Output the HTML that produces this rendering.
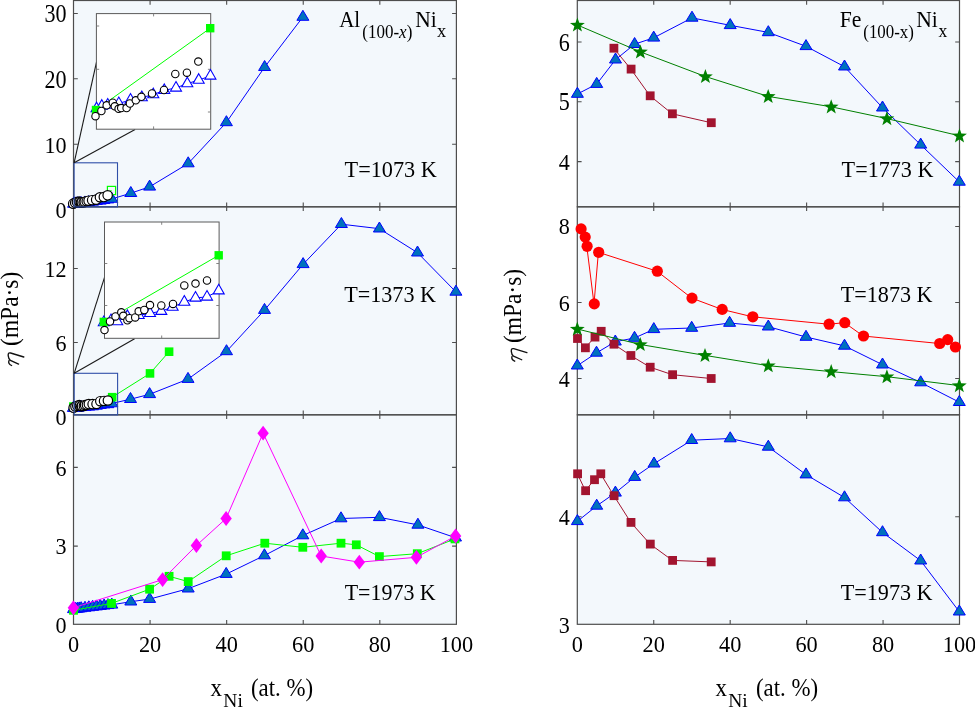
<!DOCTYPE html>
<html><head><meta charset="utf-8"><title>viscosity</title>
<style>html,body{margin:0;padding:0;background:#fff;width:975px;height:708px;overflow:hidden}svg{display:block;will-change:transform}</style>
</head><body>
<svg width="975" height="708" viewBox="0 0 975 708">
<rect x="0" y="0" width="975" height="708" fill="#ffffff"/>
<rect x="73.5" y="0.5" width="382.9" height="623.8" fill="#f3f8fc"/>
<rect x="577.3" y="0.5" width="382.2" height="623.8" fill="#f3f8fc"/>
<rect x="73.5" y="0.5" width="382.9" height="206.3" fill="none" stroke="#4d4d4d" stroke-width="1.2"/>
<path d="M150.08 0.5v4.3 M150.08 206.8v-4.3 M226.66 0.5v4.3 M226.66 206.8v-4.3 M303.24 0.5v4.3 M303.24 206.8v-4.3 M379.82 0.5v4.3 M379.82 206.8v-4.3 M73.5 13.5h4.3 M456.4 13.5h-4.3 M73.5 78.8h4.3 M456.4 78.8h-4.3 M73.5 144.2h4.3 M456.4 144.2h-4.3" stroke="#4d4d4d" stroke-width="1.1" fill="none"/>
<rect x="73.5" y="206.8" width="382.9" height="208" fill="none" stroke="#4d4d4d" stroke-width="1.2"/>
<path d="M150.08 206.8v4.3 M150.08 414.8v-4.3 M226.66 206.8v4.3 M226.66 414.8v-4.3 M303.24 206.8v4.3 M303.24 414.8v-4.3 M379.82 206.8v4.3 M379.82 414.8v-4.3 M73.5 268.5h4.3 M456.4 268.5h-4.3 M73.5 342.5h4.3 M456.4 342.5h-4.3" stroke="#4d4d4d" stroke-width="1.1" fill="none"/>
<rect x="73.5" y="414.8" width="382.9" height="209.5" fill="none" stroke="#4d4d4d" stroke-width="1.2"/>
<path d="M150.08 414.8v4.3 M150.08 624.3v-4.3 M226.66 414.8v4.3 M226.66 624.3v-4.3 M303.24 414.8v4.3 M303.24 624.3v-4.3 M379.82 414.8v4.3 M379.82 624.3v-4.3 M73.5 467.4h4.3 M456.4 467.4h-4.3 M73.5 546.1h4.3 M456.4 546.1h-4.3" stroke="#4d4d4d" stroke-width="1.1" fill="none"/>
<rect x="577.3" y="0.5" width="382.2" height="206.3" fill="none" stroke="#4d4d4d" stroke-width="1.2"/>
<path d="M653.74 0.5v4.3 M653.74 206.8v-4.3 M730.18 0.5v4.3 M730.18 206.8v-4.3 M806.62 0.5v4.3 M806.62 206.8v-4.3 M883.06 0.5v4.3 M883.06 206.8v-4.3 M577.3 42h4.3 M959.5 42h-4.3 M577.3 101.8h4.3 M959.5 101.8h-4.3 M577.3 161.6h4.3 M959.5 161.6h-4.3" stroke="#4d4d4d" stroke-width="1.1" fill="none"/>
<rect x="577.3" y="206.8" width="382.2" height="208" fill="none" stroke="#4d4d4d" stroke-width="1.2"/>
<path d="M653.74 206.8v4.3 M653.74 414.8v-4.3 M730.18 206.8v4.3 M730.18 414.8v-4.3 M806.62 206.8v4.3 M806.62 414.8v-4.3 M883.06 206.8v4.3 M883.06 414.8v-4.3 M577.3 226.5h4.3 M959.5 226.5h-4.3 M577.3 302.5h4.3 M959.5 302.5h-4.3 M577.3 378.5h4.3 M959.5 378.5h-4.3" stroke="#4d4d4d" stroke-width="1.1" fill="none"/>
<rect x="577.3" y="414.8" width="382.2" height="209.5" fill="none" stroke="#4d4d4d" stroke-width="1.2"/>
<path d="M653.74 414.8v4.3 M653.74 624.3v-4.3 M730.18 414.8v4.3 M730.18 624.3v-4.3 M806.62 414.8v4.3 M806.62 624.3v-4.3 M883.06 414.8v4.3 M883.06 624.3v-4.3 M577.3 516.8h4.3 M959.5 516.8h-4.3" stroke="#4d4d4d" stroke-width="1.1" fill="none"/>
<text x="66.5" y="22.41" font-family="Liberation Serif" font-size="25.5" text-anchor="end" textLength="22.08" lengthAdjust="spacingAndGlyphs">30</text>
<text x="66.5" y="87.71" font-family="Liberation Serif" font-size="25.5" text-anchor="end" textLength="22.08" lengthAdjust="spacingAndGlyphs">20</text>
<text x="66.5" y="152.6" font-family="Liberation Serif" font-size="24" text-anchor="end" textLength="22.08" lengthAdjust="spacingAndGlyphs">10</text>
<text x="66.5" y="218.3" font-family="Liberation Serif" font-size="24" text-anchor="end" textLength="11.04" lengthAdjust="spacingAndGlyphs">0</text>
<text x="66.5" y="277.1" font-family="Liberation Serif" font-size="24" text-anchor="end" textLength="22.08" lengthAdjust="spacingAndGlyphs">12</text>
<text x="66.5" y="350.9" font-family="Liberation Serif" font-size="24" text-anchor="end" textLength="11.04" lengthAdjust="spacingAndGlyphs">6</text>
<text x="66.5" y="424.8" font-family="Liberation Serif" font-size="24" text-anchor="end" textLength="11.04" lengthAdjust="spacingAndGlyphs">0</text>
<text x="66.5" y="475.7" font-family="Liberation Serif" font-size="24" text-anchor="end" textLength="11.04" lengthAdjust="spacingAndGlyphs">6</text>
<text x="66.5" y="554.2" font-family="Liberation Serif" font-size="24" text-anchor="end" textLength="11.04" lengthAdjust="spacingAndGlyphs">3</text>
<text x="66.5" y="632.7" font-family="Liberation Serif" font-size="24" text-anchor="end" textLength="11.04" lengthAdjust="spacingAndGlyphs">0</text>
<text x="569.8" y="50.81" font-family="Liberation Serif" font-size="25.5" text-anchor="end" textLength="11.04" lengthAdjust="spacingAndGlyphs">6</text>
<text x="569.8" y="110.41" font-family="Liberation Serif" font-size="25.5" text-anchor="end" textLength="11.04" lengthAdjust="spacingAndGlyphs">5</text>
<text x="569.8" y="170.2" font-family="Liberation Serif" font-size="24" text-anchor="end" textLength="11.04" lengthAdjust="spacingAndGlyphs">4</text>
<text x="569.8" y="234.1" font-family="Liberation Serif" font-size="24" text-anchor="end" textLength="11.04" lengthAdjust="spacingAndGlyphs">8</text>
<text x="569.8" y="310.6" font-family="Liberation Serif" font-size="24" text-anchor="end" textLength="11.04" lengthAdjust="spacingAndGlyphs">6</text>
<text x="569.8" y="386.7" font-family="Liberation Serif" font-size="24" text-anchor="end" textLength="11.04" lengthAdjust="spacingAndGlyphs">4</text>
<text x="569.8" y="525.1" font-family="Liberation Serif" font-size="24" text-anchor="end" textLength="11.04" lengthAdjust="spacingAndGlyphs">4</text>
<text x="569.8" y="632.6" font-family="Liberation Serif" font-size="24" text-anchor="end" textLength="11.04" lengthAdjust="spacingAndGlyphs">3</text>
<text x="73.5" y="652" font-family="Liberation Serif" font-size="24" text-anchor="middle" textLength="11.16" lengthAdjust="spacingAndGlyphs">0</text>
<text x="577.3" y="652" font-family="Liberation Serif" font-size="24" text-anchor="middle" textLength="11.16" lengthAdjust="spacingAndGlyphs">0</text>
<text x="150.08" y="652" font-family="Liberation Serif" font-size="24" text-anchor="middle" textLength="22.32" lengthAdjust="spacingAndGlyphs">20</text>
<text x="653.74" y="652" font-family="Liberation Serif" font-size="24" text-anchor="middle" textLength="22.32" lengthAdjust="spacingAndGlyphs">20</text>
<text x="226.66" y="652" font-family="Liberation Serif" font-size="24" text-anchor="middle" textLength="22.32" lengthAdjust="spacingAndGlyphs">40</text>
<text x="730.18" y="652" font-family="Liberation Serif" font-size="24" text-anchor="middle" textLength="22.32" lengthAdjust="spacingAndGlyphs">40</text>
<text x="303.24" y="652" font-family="Liberation Serif" font-size="24" text-anchor="middle" textLength="22.32" lengthAdjust="spacingAndGlyphs">60</text>
<text x="806.62" y="652" font-family="Liberation Serif" font-size="24" text-anchor="middle" textLength="22.32" lengthAdjust="spacingAndGlyphs">60</text>
<text x="379.82" y="652" font-family="Liberation Serif" font-size="24" text-anchor="middle" textLength="22.32" lengthAdjust="spacingAndGlyphs">80</text>
<text x="883.06" y="652" font-family="Liberation Serif" font-size="24" text-anchor="middle" textLength="22.32" lengthAdjust="spacingAndGlyphs">80</text>
<text x="456.4" y="652" font-family="Liberation Serif" font-size="24" text-anchor="middle" textLength="33.48" lengthAdjust="spacingAndGlyphs">100</text>
<text x="959.5" y="652" font-family="Liberation Serif" font-size="24" text-anchor="middle" textLength="33.48" lengthAdjust="spacingAndGlyphs">100</text>
<text x="210.5" y="696.4" font-family="Liberation Serif" font-size="26" text-anchor="start" textLength="11.5" lengthAdjust="spacingAndGlyphs">x</text>
<text x="223.3" y="706.8" font-family="Liberation Serif" font-size="19" text-anchor="start" textLength="19.5" lengthAdjust="spacingAndGlyphs">Ni</text>
<text x="251" y="696.4" font-family="Liberation Serif" font-size="25" text-anchor="start" textLength="62.2" lengthAdjust="spacingAndGlyphs">(at. %)</text>
<text x="715.4" y="696.4" font-family="Liberation Serif" font-size="26" text-anchor="start" textLength="11.5" lengthAdjust="spacingAndGlyphs">x</text>
<text x="728.2" y="706.8" font-family="Liberation Serif" font-size="19" text-anchor="start" textLength="19.5" lengthAdjust="spacingAndGlyphs">Ni</text>
<text x="755.9" y="696.4" font-family="Liberation Serif" font-size="25" text-anchor="start" textLength="62.2" lengthAdjust="spacingAndGlyphs">(at. %)</text>
<g transform="translate(0,0)">
<g transform="translate(0,365.5) scale(1,1.2) translate(0,-365.5)"><path d="M23.8 358.4 L10.6 355.1 Q7.9 354.5 8.2 357.3 Q8.5 360.2 10.4 361.2 L18.6 364.3 M8.9 361.5 Q7.9 364.1 11.6 365.5" fill="none" stroke="#111" stroke-width="1.35" stroke-linecap="round" vector-effect="non-scaling-stroke"/></g>
<g transform="translate(18.3,366.6) rotate(-90)">
<text x="20.7" y="0" font-family="Liberation Serif" font-size="25.5" text-anchor="start" textLength="74.2" lengthAdjust="spacingAndGlyphs">(mPa&#183;s)</text>
</g></g>
<g transform="translate(503.1,-4.3)">
<g transform="translate(0,365.5) scale(1,1.2) translate(0,-365.5)"><path d="M23.8 358.4 L10.6 355.1 Q7.9 354.5 8.2 357.3 Q8.5 360.2 10.4 361.2 L18.6 364.3 M8.9 361.5 Q7.9 364.1 11.6 365.5" fill="none" stroke="#111" stroke-width="1.35" stroke-linecap="round" vector-effect="non-scaling-stroke"/></g>
<g transform="translate(18.3,366.6) rotate(-90)">
<text x="19.2" y="0" font-family="Liberation Serif" font-size="25.5" text-anchor="start" textLength="74.2" lengthAdjust="spacingAndGlyphs">(mPa&#183;s)</text>
</g></g>
<text x="339.2" y="27.4" font-family="Liberation Serif" font-size="23.5" text-anchor="start" textLength="21" lengthAdjust="spacingAndGlyphs">Al</text>
<text x="362.3" y="37.5" font-family="Liberation Serif" font-size="17.8" text-anchor="start" textLength="50" lengthAdjust="spacingAndGlyphs">(100-<tspan font-style="italic">x</tspan>)</text>
<text x="415.2" y="27.4" font-family="Liberation Serif" font-size="23.5" text-anchor="start" textLength="21.5" lengthAdjust="spacingAndGlyphs">Ni</text>
<text x="436.9" y="37.3" font-family="Liberation Serif" font-size="19" text-anchor="start" textLength="9.2" lengthAdjust="spacingAndGlyphs">x</text>
<text x="839.8" y="27.4" font-family="Liberation Serif" font-size="23.5" text-anchor="start" textLength="21.7" lengthAdjust="spacingAndGlyphs">Fe</text>
<text x="863.3" y="37.5" font-family="Liberation Serif" font-size="17.8" text-anchor="start" textLength="50.5" lengthAdjust="spacingAndGlyphs">(100-x)</text>
<text x="916.2" y="27.4" font-family="Liberation Serif" font-size="23.5" text-anchor="start" textLength="21.6" lengthAdjust="spacingAndGlyphs">Ni</text>
<text x="938.4" y="37.3" font-family="Liberation Serif" font-size="19" text-anchor="start" textLength="8.8" lengthAdjust="spacingAndGlyphs">x</text>
<text x="344.6" y="177.3" font-family="Liberation Serif" font-size="24" text-anchor="start" textLength="92.2" lengthAdjust="spacingAndGlyphs">T=1073 K</text>
<text x="344.2" y="301.8" font-family="Liberation Serif" font-size="24" text-anchor="start" textLength="91.8" lengthAdjust="spacingAndGlyphs">T=1373 K</text>
<text x="344.7" y="600.3" font-family="Liberation Serif" font-size="24" text-anchor="start" textLength="91" lengthAdjust="spacingAndGlyphs">T=1973 K</text>
<text x="841.6" y="177.3" font-family="Liberation Serif" font-size="24" text-anchor="start" textLength="91.9" lengthAdjust="spacingAndGlyphs">T=1773 K</text>
<text x="840.7" y="301.9" font-family="Liberation Serif" font-size="24" text-anchor="start" textLength="91.9" lengthAdjust="spacingAndGlyphs">T=1873 K</text>
<text x="840.7" y="600.3" font-family="Liberation Serif" font-size="24" text-anchor="start" textLength="91.9" lengthAdjust="spacingAndGlyphs">T=1973 K</text>
<g>
<polyline points="73.57,203.96 75.31,203.58 77.29,203.39 81,203.16 84.92,202.65 88.71,202.27 92.56,201.83 96.25,201.17 100.17,200.81 103.95,200.16 107.77,199.62 111.69,198.99 130.8,193.2 149.6,186.8 188.2,163.5 226.4,122.4 264.6,67.2 302.9,17" fill="none" stroke="#0000ff" stroke-width="1.0" stroke-linejoin="round"/>
<polyline points="73.37,202.71 111.5,190.5" fill="none" stroke="#00ff00" stroke-width="1.0" stroke-linejoin="round"/>
<polygon points="73.57,197.26 79.57,207.26 67.57,207.26" fill="#0072bd" stroke="#0000ff" stroke-width="1.0" stroke-linejoin="miter"/>
<polygon points="75.31,196.88 81.31,206.88 69.31,206.88" fill="#0072bd" stroke="#0000ff" stroke-width="1.0" stroke-linejoin="miter"/>
<polygon points="77.29,196.69 83.29,206.69 71.29,206.69" fill="#0072bd" stroke="#0000ff" stroke-width="1.0" stroke-linejoin="miter"/>
<polygon points="81,196.46 87,206.46 75,206.46" fill="#0072bd" stroke="#0000ff" stroke-width="1.0" stroke-linejoin="miter"/>
<polygon points="84.92,195.95 90.92,205.95 78.92,205.95" fill="#0072bd" stroke="#0000ff" stroke-width="1.0" stroke-linejoin="miter"/>
<polygon points="88.71,195.57 94.71,205.57 82.71,205.57" fill="#0072bd" stroke="#0000ff" stroke-width="1.0" stroke-linejoin="miter"/>
<polygon points="92.56,195.13 98.56,205.13 86.56,205.13" fill="#0072bd" stroke="#0000ff" stroke-width="1.0" stroke-linejoin="miter"/>
<polygon points="96.25,194.47 102.25,204.47 90.25,204.47" fill="#0072bd" stroke="#0000ff" stroke-width="1.0" stroke-linejoin="miter"/>
<polygon points="100.17,194.11 106.17,204.11 94.17,204.11" fill="#0072bd" stroke="#0000ff" stroke-width="1.0" stroke-linejoin="miter"/>
<polygon points="103.95,193.46 109.95,203.46 97.95,203.46" fill="#0072bd" stroke="#0000ff" stroke-width="1.0" stroke-linejoin="miter"/>
<polygon points="107.77,192.92 113.77,202.92 101.77,202.92" fill="#0072bd" stroke="#0000ff" stroke-width="1.0" stroke-linejoin="miter"/>
<polygon points="111.69,192.29 117.69,202.29 105.69,202.29" fill="#0072bd" stroke="#0000ff" stroke-width="1.0" stroke-linejoin="miter"/>
<polygon points="130.8,186.5 136.8,196.5 124.8,196.5" fill="#0072bd" stroke="#0000ff" stroke-width="1.0" stroke-linejoin="miter"/>
<polygon points="149.6,180.1 155.6,190.1 143.6,190.1" fill="#0072bd" stroke="#0000ff" stroke-width="1.0" stroke-linejoin="miter"/>
<polygon points="188.2,156.8 194.2,166.8 182.2,166.8" fill="#0072bd" stroke="#0000ff" stroke-width="1.0" stroke-linejoin="miter"/>
<polygon points="226.4,115.7 232.4,125.7 220.4,125.7" fill="#0072bd" stroke="#0000ff" stroke-width="1.0" stroke-linejoin="miter"/>
<polygon points="264.6,60.5 270.6,70.5 258.6,70.5" fill="#0072bd" stroke="#0000ff" stroke-width="1.0" stroke-linejoin="miter"/>
<polygon points="302.9,10.3 308.9,20.3 296.9,20.3" fill="#0072bd" stroke="#0000ff" stroke-width="1.0" stroke-linejoin="miter"/>
<rect x="107.4" y="186.4" width="8.2" height="8.2" fill="none" stroke="#00ff00" stroke-width="1.2"/>
<circle cx="73.2" cy="203.65" r="4.7" fill="#ffffff" stroke="#000000" stroke-width="1.2"/>
<circle cx="75.17" cy="202.86" r="4.7" fill="#ffffff" stroke="#000000" stroke-width="1.2"/>
<circle cx="76.95" cy="202" r="4.7" fill="#ffffff" stroke="#000000" stroke-width="1.2"/>
<circle cx="78.99" cy="201.6" r="4.7" fill="#ffffff" stroke="#000000" stroke-width="1.2"/>
<circle cx="79.66" cy="202.15" r="4.7" fill="#ffffff" stroke="#000000" stroke-width="1.2"/>
<circle cx="80.94" cy="202.53" r="4.7" fill="#ffffff" stroke="#000000" stroke-width="1.2"/>
<circle cx="81.81" cy="202.42" r="4.7" fill="#ffffff" stroke="#000000" stroke-width="1.2"/>
<circle cx="83.62" cy="202.42" r="4.7" fill="#ffffff" stroke="#000000" stroke-width="1.2"/>
<circle cx="84.72" cy="201.72" r="4.7" fill="#ffffff" stroke="#000000" stroke-width="1.2"/>
<circle cx="86.7" cy="201.24" r="4.7" fill="#ffffff" stroke="#000000" stroke-width="1.2"/>
<circle cx="88.57" cy="200.7" r="4.7" fill="#ffffff" stroke="#000000" stroke-width="1.2"/>
<circle cx="92.13" cy="200.2" r="4.7" fill="#ffffff" stroke="#000000" stroke-width="1.2"/>
<circle cx="96.15" cy="199.67" r="4.7" fill="#ffffff" stroke="#000000" stroke-width="1.2"/>
<circle cx="99.93" cy="197.24" r="4.7" fill="#ffffff" stroke="#000000" stroke-width="1.2"/>
<circle cx="103.82" cy="197.04" r="4.7" fill="#ffffff" stroke="#000000" stroke-width="1.2"/>
<circle cx="107.64" cy="195.36" r="4.7" fill="#ffffff" stroke="#000000" stroke-width="1.2"/>
</g>
<rect x="74.1" y="162.8" width="43.4" height="44.1" fill="none" stroke="#2f4fa8" stroke-width="1.1"/>
<polyline points="74.1,162.8 96.6,61.7" fill="none" stroke="#1a1a1a" stroke-width="1.1" stroke-linejoin="round"/>
<polyline points="74.1,162.8 135.1,129.4" fill="none" stroke="#1a1a1a" stroke-width="1.1" stroke-linejoin="round"/>
<rect x="96.4" y="13.6" width="114.3" height="115.6" fill="#ffffff" stroke="#5a5a5a" stroke-width="1.0"/>
<path d="M153.6 13.6v2.8 M153.6 129.2v-2.8 M96.4 26h2.8 M96.4 69.3h2.8 M96.4 112h2.8 M210.7 26h-2.8 M210.7 69.3h-2.8 M210.7 112h-2.8" stroke="#777" stroke-width="0.9" fill="none"/>
<polyline points="96.6,108.6 101.8,106.1 107.7,104.9 118.8,103.4 130.5,100 141.8,97.5 153.3,94.6 164.3,90.3 176,87.9 187.3,83.6 198.7,80.1 210.4,75.9" fill="none" stroke="#0000ff" stroke-width="1.0" stroke-linejoin="round"/>
<polyline points="96,110 210.2,28.2" fill="none" stroke="#00ff00" stroke-width="1.0" stroke-linejoin="round"/>
<polygon points="96.6,102.2 102.1,111.8 91.1,111.8" fill="#ffffff" stroke="#0000ff" stroke-width="1.1" stroke-linejoin="miter"/>
<polygon points="101.8,99.7 107.3,109.3 96.3,109.3" fill="#ffffff" stroke="#0000ff" stroke-width="1.1" stroke-linejoin="miter"/>
<polygon points="107.7,98.5 113.2,108.1 102.2,108.1" fill="#ffffff" stroke="#0000ff" stroke-width="1.1" stroke-linejoin="miter"/>
<polygon points="118.8,97 124.3,106.6 113.3,106.6" fill="#ffffff" stroke="#0000ff" stroke-width="1.1" stroke-linejoin="miter"/>
<polygon points="130.5,93.6 136,103.2 125,103.2" fill="#ffffff" stroke="#0000ff" stroke-width="1.1" stroke-linejoin="miter"/>
<polygon points="141.8,91.1 147.3,100.7 136.3,100.7" fill="#ffffff" stroke="#0000ff" stroke-width="1.1" stroke-linejoin="miter"/>
<polygon points="153.3,88.2 158.8,97.8 147.8,97.8" fill="#ffffff" stroke="#0000ff" stroke-width="1.1" stroke-linejoin="miter"/>
<polygon points="164.3,83.9 169.8,93.5 158.8,93.5" fill="#ffffff" stroke="#0000ff" stroke-width="1.1" stroke-linejoin="miter"/>
<polygon points="176,81.5 181.5,91.1 170.5,91.1" fill="#ffffff" stroke="#0000ff" stroke-width="1.1" stroke-linejoin="miter"/>
<polygon points="187.3,77.2 192.8,86.8 181.8,86.8" fill="#ffffff" stroke="#0000ff" stroke-width="1.1" stroke-linejoin="miter"/>
<polygon points="198.7,73.7 204.2,83.3 193.2,83.3" fill="#ffffff" stroke="#0000ff" stroke-width="1.1" stroke-linejoin="miter"/>
<polygon points="210.4,69.5 215.9,79.1 204.9,79.1" fill="#ffffff" stroke="#0000ff" stroke-width="1.1" stroke-linejoin="miter"/>
<rect x="91.8" y="105.8" width="8.4" height="8.4" fill="#00ff00" stroke="none" stroke-width="1"/>
<rect x="206" y="24" width="8.4" height="8.4" fill="#00ff00" stroke="none" stroke-width="1"/>
<circle cx="95.5" cy="116.2" r="3.7" fill="#ffffff" stroke="#000000" stroke-width="1.1"/>
<circle cx="101.4" cy="111" r="3.7" fill="#ffffff" stroke="#000000" stroke-width="1.1"/>
<circle cx="106.7" cy="105.3" r="3.7" fill="#ffffff" stroke="#000000" stroke-width="1.1"/>
<circle cx="112.8" cy="102.7" r="3.7" fill="#ffffff" stroke="#000000" stroke-width="1.1"/>
<circle cx="114.8" cy="106.3" r="3.7" fill="#ffffff" stroke="#000000" stroke-width="1.1"/>
<circle cx="118.6" cy="108.8" r="3.7" fill="#ffffff" stroke="#000000" stroke-width="1.1"/>
<circle cx="121.2" cy="108.1" r="3.7" fill="#ffffff" stroke="#000000" stroke-width="1.1"/>
<circle cx="126.6" cy="108.1" r="3.7" fill="#ffffff" stroke="#000000" stroke-width="1.1"/>
<circle cx="129.9" cy="103.5" r="3.7" fill="#ffffff" stroke="#000000" stroke-width="1.1"/>
<circle cx="135.8" cy="100.3" r="3.7" fill="#ffffff" stroke="#000000" stroke-width="1.1"/>
<circle cx="141.4" cy="96.8" r="3.7" fill="#ffffff" stroke="#000000" stroke-width="1.1"/>
<circle cx="152" cy="93.5" r="3.7" fill="#ffffff" stroke="#000000" stroke-width="1.1"/>
<circle cx="164" cy="90" r="3.7" fill="#ffffff" stroke="#000000" stroke-width="1.1"/>
<circle cx="175.3" cy="74" r="3.7" fill="#ffffff" stroke="#000000" stroke-width="1.1"/>
<circle cx="186.9" cy="72.7" r="3.7" fill="#ffffff" stroke="#000000" stroke-width="1.1"/>
<circle cx="198.3" cy="61.6" r="3.7" fill="#ffffff" stroke="#000000" stroke-width="1.1"/>
<polyline points="73.37,408.13 75.77,407.82 77.85,407.98 81.26,407.22 85.04,407.07 88.82,406.78 92.59,406.47 96.37,405.87 100.29,405.12 104.03,404.52 107.88,404.37 111.79,403.46 130.5,399.2 149.6,394.3 188,379.1 226.5,351.4 264.5,310.1 303.1,264.3 341.4,224.2 379.4,228.7 417.5,252.7 455.9,291.9" fill="none" stroke="#0000ff" stroke-width="1.0" stroke-linejoin="round"/>
<polyline points="73.37,406.58 112.2,397.2 150,373.4 169.1,351.7" fill="none" stroke="#00ff00" stroke-width="1.0" stroke-linejoin="round"/>
<polygon points="73.37,401.43 79.37,411.43 67.37,411.43" fill="#0072bd" stroke="#0000ff" stroke-width="1.0" stroke-linejoin="miter"/>
<polygon points="75.77,401.12 81.77,411.12 69.77,411.12" fill="#0072bd" stroke="#0000ff" stroke-width="1.0" stroke-linejoin="miter"/>
<polygon points="77.85,401.28 83.85,411.28 71.85,411.28" fill="#0072bd" stroke="#0000ff" stroke-width="1.0" stroke-linejoin="miter"/>
<polygon points="81.26,400.52 87.26,410.52 75.26,410.52" fill="#0072bd" stroke="#0000ff" stroke-width="1.0" stroke-linejoin="miter"/>
<polygon points="85.04,400.37 91.04,410.37 79.04,410.37" fill="#0072bd" stroke="#0000ff" stroke-width="1.0" stroke-linejoin="miter"/>
<polygon points="88.82,400.08 94.82,410.08 82.82,410.08" fill="#0072bd" stroke="#0000ff" stroke-width="1.0" stroke-linejoin="miter"/>
<polygon points="92.59,399.77 98.59,409.77 86.59,409.77" fill="#0072bd" stroke="#0000ff" stroke-width="1.0" stroke-linejoin="miter"/>
<polygon points="96.37,399.17 102.37,409.17 90.37,409.17" fill="#0072bd" stroke="#0000ff" stroke-width="1.0" stroke-linejoin="miter"/>
<polygon points="100.29,398.42 106.29,408.42 94.29,408.42" fill="#0072bd" stroke="#0000ff" stroke-width="1.0" stroke-linejoin="miter"/>
<polygon points="104.03,397.82 110.03,407.82 98.03,407.82" fill="#0072bd" stroke="#0000ff" stroke-width="1.0" stroke-linejoin="miter"/>
<polygon points="107.88,397.67 113.88,407.67 101.88,407.67" fill="#0072bd" stroke="#0000ff" stroke-width="1.0" stroke-linejoin="miter"/>
<polygon points="111.79,396.76 117.79,406.76 105.79,406.76" fill="#0072bd" stroke="#0000ff" stroke-width="1.0" stroke-linejoin="miter"/>
<polygon points="130.5,392.5 136.5,402.5 124.5,402.5" fill="#0072bd" stroke="#0000ff" stroke-width="1.0" stroke-linejoin="miter"/>
<polygon points="149.6,387.6 155.6,397.6 143.6,397.6" fill="#0072bd" stroke="#0000ff" stroke-width="1.0" stroke-linejoin="miter"/>
<polygon points="188,372.4 194,382.4 182,382.4" fill="#0072bd" stroke="#0000ff" stroke-width="1.0" stroke-linejoin="miter"/>
<polygon points="226.5,344.7 232.5,354.7 220.5,354.7" fill="#0072bd" stroke="#0000ff" stroke-width="1.0" stroke-linejoin="miter"/>
<polygon points="264.5,303.4 270.5,313.4 258.5,313.4" fill="#0072bd" stroke="#0000ff" stroke-width="1.0" stroke-linejoin="miter"/>
<polygon points="303.1,257.6 309.1,267.6 297.1,267.6" fill="#0072bd" stroke="#0000ff" stroke-width="1.0" stroke-linejoin="miter"/>
<polygon points="341.4,217.5 347.4,227.5 335.4,227.5" fill="#0072bd" stroke="#0000ff" stroke-width="1.0" stroke-linejoin="miter"/>
<polygon points="379.4,222 385.4,232 373.4,232" fill="#0072bd" stroke="#0000ff" stroke-width="1.0" stroke-linejoin="miter"/>
<polygon points="417.5,246 423.5,256 411.5,256" fill="#0072bd" stroke="#0000ff" stroke-width="1.0" stroke-linejoin="miter"/>
<polygon points="455.9,285.2 461.9,295.2 449.9,295.2" fill="#0072bd" stroke="#0000ff" stroke-width="1.0" stroke-linejoin="miter"/>
<rect x="69.07" y="402.28" width="8.6" height="8.6" fill="#00ff00" stroke="none" stroke-width="1"/>
<rect x="107.9" y="392.9" width="8.6" height="8.6" fill="#00ff00" stroke="none" stroke-width="1"/>
<rect x="145.7" y="369.1" width="8.6" height="8.6" fill="#00ff00" stroke="none" stroke-width="1"/>
<rect x="164.8" y="347.4" width="8.6" height="8.6" fill="#00ff00" stroke="none" stroke-width="1"/>
<circle cx="73.6" cy="407.78" r="4.7" fill="#ffffff" stroke="#000000" stroke-width="1.2"/>
<circle cx="75.44" cy="406.52" r="4.7" fill="#ffffff" stroke="#000000" stroke-width="1.2"/>
<circle cx="77.28" cy="405.77" r="4.7" fill="#ffffff" stroke="#000000" stroke-width="1.2"/>
<circle cx="79.22" cy="405.17" r="4.7" fill="#ffffff" stroke="#000000" stroke-width="1.2"/>
<circle cx="79.89" cy="405.68" r="4.7" fill="#ffffff" stroke="#000000" stroke-width="1.2"/>
<circle cx="81.26" cy="406.34" r="4.7" fill="#ffffff" stroke="#000000" stroke-width="1.2"/>
<circle cx="81.96" cy="406.03" r="4.7" fill="#ffffff" stroke="#000000" stroke-width="1.2"/>
<circle cx="83.87" cy="405.92" r="4.7" fill="#ffffff" stroke="#000000" stroke-width="1.2"/>
<circle cx="85.04" cy="405.02" r="4.7" fill="#ffffff" stroke="#000000" stroke-width="1.2"/>
<circle cx="86.91" cy="404.83" r="4.7" fill="#ffffff" stroke="#000000" stroke-width="1.2"/>
<circle cx="88.82" cy="404.11" r="4.7" fill="#ffffff" stroke="#000000" stroke-width="1.2"/>
<circle cx="92.59" cy="404.17" r="4.7" fill="#ffffff" stroke="#000000" stroke-width="1.2"/>
<circle cx="96.51" cy="403.94" r="4.7" fill="#ffffff" stroke="#000000" stroke-width="1.2"/>
<circle cx="100.29" cy="401.22" r="4.7" fill="#ffffff" stroke="#000000" stroke-width="1.2"/>
<circle cx="104.03" cy="400.96" r="4.7" fill="#ffffff" stroke="#000000" stroke-width="1.2"/>
<circle cx="107.88" cy="400.5" r="4.7" fill="#ffffff" stroke="#000000" stroke-width="1.2"/>
<rect x="74.2" y="373.3" width="43.4" height="41.6" fill="none" stroke="#2f4fa8" stroke-width="1.1"/>
<polyline points="74.2,373.3 104.5,277.4" fill="none" stroke="#1a1a1a" stroke-width="1.1" stroke-linejoin="round"/>
<polyline points="74.2,373.3 134.6,338.8" fill="none" stroke="#1a1a1a" stroke-width="1.1" stroke-linejoin="round"/>
<rect x="104.5" y="222" width="114.6" height="116.3" fill="#ffffff" stroke="#5a5a5a" stroke-width="1.0"/>
<path d="M161.7 222v2.8 M161.7 338.3v-2.8 M104.5 263.5h2.8 M104.5 305.5h2.8 M219.1 263.5h-2.8 M219.1 305.5h-2.8" stroke="#777" stroke-width="0.9" fill="none"/>
<polyline points="103.8,322.5 111,320.4 117.2,321.5 127.4,316.3 138.7,315.3 150,313.3 161.3,311.2 172.6,307.1 184.3,302 195.5,297.9 207,296.9 218.7,290.7" fill="none" stroke="#0000ff" stroke-width="1.0" stroke-linejoin="round"/>
<polyline points="103.8,321.9 218.7,255.3" fill="none" stroke="#00ff00" stroke-width="1.0" stroke-linejoin="round"/>
<polygon points="103.8,316.1 109.3,325.7 98.3,325.7" fill="#ffffff" stroke="#0000ff" stroke-width="1.1" stroke-linejoin="miter"/>
<polygon points="111,314 116.5,323.6 105.5,323.6" fill="#ffffff" stroke="#0000ff" stroke-width="1.1" stroke-linejoin="miter"/>
<polygon points="117.2,315.1 122.7,324.7 111.7,324.7" fill="#ffffff" stroke="#0000ff" stroke-width="1.1" stroke-linejoin="miter"/>
<polygon points="127.4,309.9 132.9,319.5 121.9,319.5" fill="#ffffff" stroke="#0000ff" stroke-width="1.1" stroke-linejoin="miter"/>
<polygon points="138.7,308.9 144.2,318.5 133.2,318.5" fill="#ffffff" stroke="#0000ff" stroke-width="1.1" stroke-linejoin="miter"/>
<polygon points="150,306.9 155.5,316.5 144.5,316.5" fill="#ffffff" stroke="#0000ff" stroke-width="1.1" stroke-linejoin="miter"/>
<polygon points="161.3,304.8 166.8,314.4 155.8,314.4" fill="#ffffff" stroke="#0000ff" stroke-width="1.1" stroke-linejoin="miter"/>
<polygon points="172.6,300.7 178.1,310.3 167.1,310.3" fill="#ffffff" stroke="#0000ff" stroke-width="1.1" stroke-linejoin="miter"/>
<polygon points="184.3,295.6 189.8,305.2 178.8,305.2" fill="#ffffff" stroke="#0000ff" stroke-width="1.1" stroke-linejoin="miter"/>
<polygon points="195.5,291.5 201,301.1 190,301.1" fill="#ffffff" stroke="#0000ff" stroke-width="1.1" stroke-linejoin="miter"/>
<polygon points="207,290.5 212.5,300.1 201.5,300.1" fill="#ffffff" stroke="#0000ff" stroke-width="1.1" stroke-linejoin="miter"/>
<polygon points="218.7,284.3 224.2,293.9 213.2,293.9" fill="#ffffff" stroke="#0000ff" stroke-width="1.1" stroke-linejoin="miter"/>
<rect x="99.6" y="317.7" width="8.4" height="8.4" fill="#00ff00" stroke="none" stroke-width="1"/>
<rect x="214.5" y="251.1" width="8.4" height="8.4" fill="#00ff00" stroke="none" stroke-width="1"/>
<circle cx="104.5" cy="330.1" r="3.7" fill="#ffffff" stroke="#000000" stroke-width="1.1"/>
<circle cx="110" cy="321.5" r="3.7" fill="#ffffff" stroke="#000000" stroke-width="1.1"/>
<circle cx="115.5" cy="316.4" r="3.7" fill="#ffffff" stroke="#000000" stroke-width="1.1"/>
<circle cx="121.3" cy="312.3" r="3.7" fill="#ffffff" stroke="#000000" stroke-width="1.1"/>
<circle cx="123.3" cy="315.8" r="3.7" fill="#ffffff" stroke="#000000" stroke-width="1.1"/>
<circle cx="127.4" cy="320.3" r="3.7" fill="#ffffff" stroke="#000000" stroke-width="1.1"/>
<circle cx="129.5" cy="318.2" r="3.7" fill="#ffffff" stroke="#000000" stroke-width="1.1"/>
<circle cx="135.2" cy="317.4" r="3.7" fill="#ffffff" stroke="#000000" stroke-width="1.1"/>
<circle cx="138.7" cy="311.3" r="3.7" fill="#ffffff" stroke="#000000" stroke-width="1.1"/>
<circle cx="144.3" cy="310" r="3.7" fill="#ffffff" stroke="#000000" stroke-width="1.1"/>
<circle cx="150" cy="305.1" r="3.7" fill="#ffffff" stroke="#000000" stroke-width="1.1"/>
<circle cx="161.3" cy="305.5" r="3.7" fill="#ffffff" stroke="#000000" stroke-width="1.1"/>
<circle cx="173" cy="303.9" r="3.7" fill="#ffffff" stroke="#000000" stroke-width="1.1"/>
<circle cx="184.3" cy="285.4" r="3.7" fill="#ffffff" stroke="#000000" stroke-width="1.1"/>
<circle cx="195.5" cy="283.6" r="3.7" fill="#ffffff" stroke="#000000" stroke-width="1.1"/>
<circle cx="207" cy="280.5" r="3.7" fill="#ffffff" stroke="#000000" stroke-width="1.1"/>
<polyline points="73.5,609.3 75.41,609.08 77.33,608.85 79.24,608.63 81.16,608.4 84.99,607.95 88.82,607.5 92.64,607.05 96.47,606.6 100.3,606.15 104.13,605.7 107.96,605.25 111.79,604.8 130.8,601.7 149.6,599.1 188.2,588.7 226.2,574.1 264.4,555.5 302.8,535.5 341,518.5 379.4,517.3 417.9,524.9 455.5,537.7" fill="none" stroke="#0000ff" stroke-width="1.0" stroke-linejoin="round"/>
<polygon points="73.5,602.6 79.5,612.6 67.5,612.6" fill="#0072bd" stroke="#0000ff" stroke-width="1.0" stroke-linejoin="miter"/>
<polygon points="75.41,602.38 81.41,612.38 69.41,612.38" fill="#0072bd" stroke="#0000ff" stroke-width="1.0" stroke-linejoin="miter"/>
<polygon points="77.33,602.15 83.33,612.15 71.33,612.15" fill="#0072bd" stroke="#0000ff" stroke-width="1.0" stroke-linejoin="miter"/>
<polygon points="79.24,601.93 85.24,611.93 73.24,611.93" fill="#0072bd" stroke="#0000ff" stroke-width="1.0" stroke-linejoin="miter"/>
<polygon points="81.16,601.7 87.16,611.7 75.16,611.7" fill="#0072bd" stroke="#0000ff" stroke-width="1.0" stroke-linejoin="miter"/>
<polygon points="84.99,601.25 90.99,611.25 78.99,611.25" fill="#0072bd" stroke="#0000ff" stroke-width="1.0" stroke-linejoin="miter"/>
<polygon points="88.82,600.8 94.82,610.8 82.82,610.8" fill="#0072bd" stroke="#0000ff" stroke-width="1.0" stroke-linejoin="miter"/>
<polygon points="92.64,600.35 98.64,610.35 86.64,610.35" fill="#0072bd" stroke="#0000ff" stroke-width="1.0" stroke-linejoin="miter"/>
<polygon points="96.47,599.9 102.47,609.9 90.47,609.9" fill="#0072bd" stroke="#0000ff" stroke-width="1.0" stroke-linejoin="miter"/>
<polygon points="100.3,599.45 106.3,609.45 94.3,609.45" fill="#0072bd" stroke="#0000ff" stroke-width="1.0" stroke-linejoin="miter"/>
<polygon points="104.13,599 110.13,609 98.13,609" fill="#0072bd" stroke="#0000ff" stroke-width="1.0" stroke-linejoin="miter"/>
<polygon points="107.96,598.55 113.96,608.55 101.96,608.55" fill="#0072bd" stroke="#0000ff" stroke-width="1.0" stroke-linejoin="miter"/>
<polygon points="111.79,598.1 117.79,608.1 105.79,608.1" fill="#0072bd" stroke="#0000ff" stroke-width="1.0" stroke-linejoin="miter"/>
<polygon points="130.8,595 136.8,605 124.8,605" fill="#0072bd" stroke="#0000ff" stroke-width="1.0" stroke-linejoin="miter"/>
<polygon points="149.6,592.4 155.6,602.4 143.6,602.4" fill="#0072bd" stroke="#0000ff" stroke-width="1.0" stroke-linejoin="miter"/>
<polygon points="188.2,582 194.2,592 182.2,592" fill="#0072bd" stroke="#0000ff" stroke-width="1.0" stroke-linejoin="miter"/>
<polygon points="226.2,567.4 232.2,577.4 220.2,577.4" fill="#0072bd" stroke="#0000ff" stroke-width="1.0" stroke-linejoin="miter"/>
<polygon points="264.4,548.8 270.4,558.8 258.4,558.8" fill="#0072bd" stroke="#0000ff" stroke-width="1.0" stroke-linejoin="miter"/>
<polygon points="302.8,528.8 308.8,538.8 296.8,538.8" fill="#0072bd" stroke="#0000ff" stroke-width="1.0" stroke-linejoin="miter"/>
<polygon points="341,511.8 347,521.8 335,521.8" fill="#0072bd" stroke="#0000ff" stroke-width="1.0" stroke-linejoin="miter"/>
<polygon points="379.4,510.6 385.4,520.6 373.4,520.6" fill="#0072bd" stroke="#0000ff" stroke-width="1.0" stroke-linejoin="miter"/>
<polygon points="417.9,518.2 423.9,528.2 411.9,528.2" fill="#0072bd" stroke="#0000ff" stroke-width="1.0" stroke-linejoin="miter"/>
<polygon points="455.5,531 461.5,541 449.5,541" fill="#0072bd" stroke="#0000ff" stroke-width="1.0" stroke-linejoin="miter"/>
<polyline points="73.5,610.3 111.5,603.4 149.6,589.2 169.1,576.3 188.2,581.6 226.2,555.8 264.8,543.2 302.8,547.3 341,543.2 356.3,544.8 379.4,556.6 417.3,553.7 455,538.9" fill="none" stroke="#00ff00" stroke-width="1.0" stroke-linejoin="round"/>
<rect x="69.1" y="605.9" width="8.8" height="8.8" fill="#00ff00" stroke="none" stroke-width="1"/>
<rect x="107.1" y="599" width="8.8" height="8.8" fill="#00ff00" stroke="none" stroke-width="1"/>
<rect x="145.2" y="584.8" width="8.8" height="8.8" fill="#00ff00" stroke="none" stroke-width="1"/>
<rect x="164.7" y="571.9" width="8.8" height="8.8" fill="#00ff00" stroke="none" stroke-width="1"/>
<rect x="183.8" y="577.2" width="8.8" height="8.8" fill="#00ff00" stroke="none" stroke-width="1"/>
<rect x="221.8" y="551.4" width="8.8" height="8.8" fill="#00ff00" stroke="none" stroke-width="1"/>
<rect x="260.4" y="538.8" width="8.8" height="8.8" fill="#00ff00" stroke="none" stroke-width="1"/>
<rect x="298.4" y="542.9" width="8.8" height="8.8" fill="#00ff00" stroke="none" stroke-width="1"/>
<rect x="336.6" y="538.8" width="8.8" height="8.8" fill="#00ff00" stroke="none" stroke-width="1"/>
<rect x="351.9" y="540.4" width="8.8" height="8.8" fill="#00ff00" stroke="none" stroke-width="1"/>
<rect x="375" y="552.2" width="8.8" height="8.8" fill="#00ff00" stroke="none" stroke-width="1"/>
<rect x="412.9" y="549.3" width="8.8" height="8.8" fill="#00ff00" stroke="none" stroke-width="1"/>
<rect x="450.6" y="534.5" width="8.8" height="8.8" fill="#00ff00" stroke="none" stroke-width="1"/>
<polyline points="73.4,607.8 162.6,579.6 196.4,545.5 226.1,518.5 263.1,433.2 321.2,556 359.3,562.2 416.4,557.3 455.6,536" fill="none" stroke="#ff00ff" stroke-width="1.0" stroke-linejoin="round"/>
<polygon points="73.4,600.4 79.1,607.8 73.4,615.2 67.7,607.8" fill="#ff00ff"/>
<polygon points="162.6,572.2 168.3,579.6 162.6,587 156.9,579.6" fill="#ff00ff"/>
<polygon points="196.4,538.1 202.1,545.5 196.4,552.9 190.7,545.5" fill="#ff00ff"/>
<polygon points="226.1,511.1 231.8,518.5 226.1,525.9 220.4,518.5" fill="#ff00ff"/>
<polygon points="263.1,425.8 268.8,433.2 263.1,440.6 257.4,433.2" fill="#ff00ff"/>
<polygon points="321.2,548.6 326.9,556 321.2,563.4 315.5,556" fill="#ff00ff"/>
<polygon points="359.3,554.8 365,562.2 359.3,569.6 353.6,562.2" fill="#ff00ff"/>
<polygon points="416.4,549.9 422.1,557.3 416.4,564.7 410.7,557.3" fill="#ff00ff"/>
<polygon points="455.6,528.6 461.3,536 455.6,543.4 449.9,536" fill="#ff00ff"/>
<polyline points="577.4,94 596.7,84.1 615.5,59.7 634.6,44.2 653.7,37.8 692,17.9 730.2,25.3 768.3,32.4 806,46.3 844.5,66.7 882.5,107.7 920.7,144.8 959.3,181.9" fill="none" stroke="#0000ff" stroke-width="1.0" stroke-linejoin="round"/>
<polygon points="577.4,87.3 583.4,97.3 571.4,97.3" fill="#0072bd" stroke="#0000ff" stroke-width="1.0" stroke-linejoin="miter"/>
<polygon points="596.7,77.4 602.7,87.4 590.7,87.4" fill="#0072bd" stroke="#0000ff" stroke-width="1.0" stroke-linejoin="miter"/>
<polygon points="615.5,53 621.5,63 609.5,63" fill="#0072bd" stroke="#0000ff" stroke-width="1.0" stroke-linejoin="miter"/>
<polygon points="634.6,37.5 640.6,47.5 628.6,47.5" fill="#0072bd" stroke="#0000ff" stroke-width="1.0" stroke-linejoin="miter"/>
<polygon points="653.7,31.1 659.7,41.1 647.7,41.1" fill="#0072bd" stroke="#0000ff" stroke-width="1.0" stroke-linejoin="miter"/>
<polygon points="692,11.2 698,21.2 686,21.2" fill="#0072bd" stroke="#0000ff" stroke-width="1.0" stroke-linejoin="miter"/>
<polygon points="730.2,18.6 736.2,28.6 724.2,28.6" fill="#0072bd" stroke="#0000ff" stroke-width="1.0" stroke-linejoin="miter"/>
<polygon points="768.3,25.7 774.3,35.7 762.3,35.7" fill="#0072bd" stroke="#0000ff" stroke-width="1.0" stroke-linejoin="miter"/>
<polygon points="806,39.6 812,49.6 800,49.6" fill="#0072bd" stroke="#0000ff" stroke-width="1.0" stroke-linejoin="miter"/>
<polygon points="844.5,60 850.5,70 838.5,70" fill="#0072bd" stroke="#0000ff" stroke-width="1.0" stroke-linejoin="miter"/>
<polygon points="882.5,101 888.5,111 876.5,111" fill="#0072bd" stroke="#0000ff" stroke-width="1.0" stroke-linejoin="miter"/>
<polygon points="920.7,138.1 926.7,148.1 914.7,148.1" fill="#0072bd" stroke="#0000ff" stroke-width="1.0" stroke-linejoin="miter"/>
<polygon points="959.3,175.2 965.3,185.2 953.3,185.2" fill="#0072bd" stroke="#0000ff" stroke-width="1.0" stroke-linejoin="miter"/>
<polyline points="613.7,48.2 630.9,69.1 650,95.8 672.2,113.8 711.1,122.7" fill="none" stroke="#a2142f" stroke-width="1.0" stroke-linejoin="round"/>
<rect x="609.5" y="43.8" width="8.8" height="8.8" fill="#a2142f" stroke="none" stroke-width="1"/>
<rect x="626.7" y="64.7" width="8.8" height="8.8" fill="#a2142f" stroke="none" stroke-width="1"/>
<rect x="645.8" y="91.4" width="8.8" height="8.8" fill="#a2142f" stroke="none" stroke-width="1"/>
<rect x="668" y="109.4" width="8.8" height="8.8" fill="#a2142f" stroke="none" stroke-width="1"/>
<rect x="706.9" y="118.3" width="8.8" height="8.8" fill="#a2142f" stroke="none" stroke-width="1"/>
<polyline points="577.4,25 640.4,51.9 705.4,76.5 768.2,96.4 831.2,106.8 886.9,118.6 959.5,135.8" fill="none" stroke="#008000" stroke-width="1.0" stroke-linejoin="round"/>
<polygon points="577.4,17.5 579.28,22.71 584.82,22.89 580.44,26.29 581.98,31.61 577.4,28.5 572.82,31.61 574.36,26.29 569.98,22.89 575.52,22.71" fill="#008000"/>
<polygon points="640.4,44.4 642.28,49.61 647.82,49.79 643.44,53.19 644.98,58.51 640.4,55.4 635.82,58.51 637.36,53.19 632.98,49.79 638.52,49.61" fill="#008000"/>
<polygon points="705.4,69 707.28,74.21 712.82,74.39 708.44,77.79 709.98,83.11 705.4,80 700.82,83.11 702.36,77.79 697.98,74.39 703.52,74.21" fill="#008000"/>
<polygon points="768.2,88.9 770.08,94.11 775.62,94.29 771.24,97.69 772.78,103.01 768.2,99.9 763.62,103.01 765.16,97.69 760.78,94.29 766.32,94.11" fill="#008000"/>
<polygon points="831.2,99.3 833.08,104.51 838.62,104.69 834.24,108.09 835.78,113.41 831.2,110.3 826.62,113.41 828.16,108.09 823.78,104.69 829.32,104.51" fill="#008000"/>
<polygon points="886.9,111.1 888.78,116.31 894.32,116.49 889.94,119.89 891.48,125.21 886.9,122.1 882.32,125.21 883.86,119.89 879.48,116.49 885.02,116.31" fill="#008000"/>
<polygon points="959.5,128.3 961.38,133.51 966.92,133.69 962.54,137.09 964.08,142.41 959.5,139.3 954.92,142.41 956.46,137.09 952.08,133.69 957.62,133.51" fill="#008000"/>
<polyline points="577.3,365.7 596.5,352.9 615.3,341.7 634.5,338 653.8,329.3 691.7,328 729.6,323 768.3,326.7 806,337 844.5,345.9 882.5,364.7 920.7,382.5 959.3,402.2" fill="none" stroke="#0000ff" stroke-width="1.0" stroke-linejoin="round"/>
<polygon points="577.3,359 583.3,369 571.3,369" fill="#0072bd" stroke="#0000ff" stroke-width="1.0" stroke-linejoin="miter"/>
<polygon points="596.5,346.2 602.5,356.2 590.5,356.2" fill="#0072bd" stroke="#0000ff" stroke-width="1.0" stroke-linejoin="miter"/>
<polygon points="615.3,335 621.3,345 609.3,345" fill="#0072bd" stroke="#0000ff" stroke-width="1.0" stroke-linejoin="miter"/>
<polygon points="634.5,331.3 640.5,341.3 628.5,341.3" fill="#0072bd" stroke="#0000ff" stroke-width="1.0" stroke-linejoin="miter"/>
<polygon points="653.8,322.6 659.8,332.6 647.8,332.6" fill="#0072bd" stroke="#0000ff" stroke-width="1.0" stroke-linejoin="miter"/>
<polygon points="691.7,321.3 697.7,331.3 685.7,331.3" fill="#0072bd" stroke="#0000ff" stroke-width="1.0" stroke-linejoin="miter"/>
<polygon points="729.6,316.3 735.6,326.3 723.6,326.3" fill="#0072bd" stroke="#0000ff" stroke-width="1.0" stroke-linejoin="miter"/>
<polygon points="768.3,320 774.3,330 762.3,330" fill="#0072bd" stroke="#0000ff" stroke-width="1.0" stroke-linejoin="miter"/>
<polygon points="806,330.3 812,340.3 800,340.3" fill="#0072bd" stroke="#0000ff" stroke-width="1.0" stroke-linejoin="miter"/>
<polygon points="844.5,339.2 850.5,349.2 838.5,349.2" fill="#0072bd" stroke="#0000ff" stroke-width="1.0" stroke-linejoin="miter"/>
<polygon points="882.5,358 888.5,368 876.5,368" fill="#0072bd" stroke="#0000ff" stroke-width="1.0" stroke-linejoin="miter"/>
<polygon points="920.7,375.8 926.7,385.8 914.7,385.8" fill="#0072bd" stroke="#0000ff" stroke-width="1.0" stroke-linejoin="miter"/>
<polygon points="959.3,395.5 965.3,405.5 953.3,405.5" fill="#0072bd" stroke="#0000ff" stroke-width="1.0" stroke-linejoin="miter"/>
<polyline points="577.3,338.5 585.2,347.8 594.8,337.1 601,331.3 613.8,344.2 630.7,355.5 650,367.2 672.4,374.7 711,378.5" fill="none" stroke="#a2142f" stroke-width="1.0" stroke-linejoin="round"/>
<rect x="573.1" y="334.1" width="8.8" height="8.8" fill="#a2142f" stroke="none" stroke-width="1"/>
<rect x="581" y="343.4" width="8.8" height="8.8" fill="#a2142f" stroke="none" stroke-width="1"/>
<rect x="590.6" y="332.7" width="8.8" height="8.8" fill="#a2142f" stroke="none" stroke-width="1"/>
<rect x="596.8" y="326.9" width="8.8" height="8.8" fill="#a2142f" stroke="none" stroke-width="1"/>
<rect x="609.6" y="339.8" width="8.8" height="8.8" fill="#a2142f" stroke="none" stroke-width="1"/>
<rect x="626.5" y="351.1" width="8.8" height="8.8" fill="#a2142f" stroke="none" stroke-width="1"/>
<rect x="645.8" y="362.8" width="8.8" height="8.8" fill="#a2142f" stroke="none" stroke-width="1"/>
<rect x="668.2" y="370.3" width="8.8" height="8.8" fill="#a2142f" stroke="none" stroke-width="1"/>
<rect x="706.8" y="374.1" width="8.8" height="8.8" fill="#a2142f" stroke="none" stroke-width="1"/>
<polyline points="577.3,329 640.3,344.5 705,355.4 768.3,365.7 831.2,371.6 886.9,376.7 959.3,385.6" fill="none" stroke="#008000" stroke-width="1.0" stroke-linejoin="round"/>
<polygon points="577.3,321.5 579.18,326.71 584.72,326.89 580.34,330.29 581.88,335.61 577.3,332.5 572.72,335.61 574.26,330.29 569.88,326.89 575.42,326.71" fill="#008000"/>
<polygon points="640.3,337 642.18,342.21 647.72,342.39 643.34,345.79 644.88,351.11 640.3,348 635.72,351.11 637.26,345.79 632.88,342.39 638.42,342.21" fill="#008000"/>
<polygon points="705,347.9 706.88,353.11 712.42,353.29 708.04,356.69 709.58,362.01 705,358.9 700.42,362.01 701.96,356.69 697.58,353.29 703.12,353.11" fill="#008000"/>
<polygon points="768.3,358.2 770.18,363.41 775.72,363.59 771.34,366.99 772.88,372.31 768.3,369.2 763.72,372.31 765.26,366.99 760.88,363.59 766.42,363.41" fill="#008000"/>
<polygon points="831.2,364.1 833.08,369.31 838.62,369.49 834.24,372.89 835.78,378.21 831.2,375.1 826.62,378.21 828.16,372.89 823.78,369.49 829.32,369.31" fill="#008000"/>
<polygon points="886.9,369.2 888.78,374.41 894.32,374.59 889.94,377.99 891.48,383.31 886.9,380.2 882.32,383.31 883.86,377.99 879.48,374.59 885.02,374.41" fill="#008000"/>
<polygon points="959.3,378.1 961.18,383.31 966.72,383.49 962.34,386.89 963.88,392.21 959.3,389.1 954.72,392.21 956.26,386.89 951.88,383.49 957.42,383.31" fill="#008000"/>
<polyline points="580.8,228.9 584.9,237.1 586.8,246.3 594,303.9 598.4,252.3 657,271.2 691.7,298.1 721.9,309.4 752.5,316.8 828.8,324.2 844.5,322.7 863.2,336 939.4,343.5 947.4,339.6 955.1,347" fill="none" stroke="#ff0000" stroke-width="1.0" stroke-linejoin="round"/>
<circle cx="581.1" cy="228.9" r="5.6" fill="#ff0000" stroke="none" stroke-width="1"/>
<circle cx="585.2" cy="237.1" r="5.6" fill="#ff0000" stroke="none" stroke-width="1"/>
<circle cx="587.1" cy="246.3" r="5.6" fill="#ff0000" stroke="none" stroke-width="1"/>
<circle cx="594.3" cy="303.9" r="5.6" fill="#ff0000" stroke="none" stroke-width="1"/>
<circle cx="598.7" cy="252.3" r="5.6" fill="#ff0000" stroke="none" stroke-width="1"/>
<circle cx="657.3" cy="271.2" r="5.6" fill="#ff0000" stroke="none" stroke-width="1"/>
<circle cx="692" cy="298.1" r="5.6" fill="#ff0000" stroke="none" stroke-width="1"/>
<circle cx="722.2" cy="309.4" r="5.6" fill="#ff0000" stroke="none" stroke-width="1"/>
<circle cx="752.8" cy="316.8" r="5.6" fill="#ff0000" stroke="none" stroke-width="1"/>
<circle cx="829.1" cy="324.2" r="5.6" fill="#ff0000" stroke="none" stroke-width="1"/>
<circle cx="844.8" cy="322.7" r="5.6" fill="#ff0000" stroke="none" stroke-width="1"/>
<circle cx="863.5" cy="336" r="5.6" fill="#ff0000" stroke="none" stroke-width="1"/>
<circle cx="939.7" cy="343.5" r="5.6" fill="#ff0000" stroke="none" stroke-width="1"/>
<circle cx="947.7" cy="339.6" r="5.6" fill="#ff0000" stroke="none" stroke-width="1"/>
<circle cx="955.4" cy="347" r="5.6" fill="#ff0000" stroke="none" stroke-width="1"/>
<polyline points="577.4,521.3 596.7,505.9 615.4,492.8 634.7,477.1 654,463.7 691.7,440.2 730.2,438.5 768.3,446.9 806,474.6 844.5,497.5 882.5,532.4 920.7,560.7 959.3,611.7" fill="none" stroke="#0000ff" stroke-width="1.0" stroke-linejoin="round"/>
<polygon points="577.4,514.6 583.4,524.6 571.4,524.6" fill="#0072bd" stroke="#0000ff" stroke-width="1.0" stroke-linejoin="miter"/>
<polygon points="596.7,499.2 602.7,509.2 590.7,509.2" fill="#0072bd" stroke="#0000ff" stroke-width="1.0" stroke-linejoin="miter"/>
<polygon points="615.4,486.1 621.4,496.1 609.4,496.1" fill="#0072bd" stroke="#0000ff" stroke-width="1.0" stroke-linejoin="miter"/>
<polygon points="634.7,470.4 640.7,480.4 628.7,480.4" fill="#0072bd" stroke="#0000ff" stroke-width="1.0" stroke-linejoin="miter"/>
<polygon points="654,457 660,467 648,467" fill="#0072bd" stroke="#0000ff" stroke-width="1.0" stroke-linejoin="miter"/>
<polygon points="691.7,433.5 697.7,443.5 685.7,443.5" fill="#0072bd" stroke="#0000ff" stroke-width="1.0" stroke-linejoin="miter"/>
<polygon points="730.2,431.8 736.2,441.8 724.2,441.8" fill="#0072bd" stroke="#0000ff" stroke-width="1.0" stroke-linejoin="miter"/>
<polygon points="768.3,440.2 774.3,450.2 762.3,450.2" fill="#0072bd" stroke="#0000ff" stroke-width="1.0" stroke-linejoin="miter"/>
<polygon points="806,467.9 812,477.9 800,477.9" fill="#0072bd" stroke="#0000ff" stroke-width="1.0" stroke-linejoin="miter"/>
<polygon points="844.5,490.8 850.5,500.8 838.5,500.8" fill="#0072bd" stroke="#0000ff" stroke-width="1.0" stroke-linejoin="miter"/>
<polygon points="882.5,525.7 888.5,535.7 876.5,535.7" fill="#0072bd" stroke="#0000ff" stroke-width="1.0" stroke-linejoin="miter"/>
<polygon points="920.7,554 926.7,564 914.7,564" fill="#0072bd" stroke="#0000ff" stroke-width="1.0" stroke-linejoin="miter"/>
<polygon points="959.3,605 965.3,615 953.3,615" fill="#0072bd" stroke="#0000ff" stroke-width="1.0" stroke-linejoin="miter"/>
<polyline points="577.4,473.8 585.4,490.7 594.3,479.7 600.6,473.8 613.9,495.7 630.8,522.4 650.1,544.1 672.4,560.4 711,561.9" fill="none" stroke="#a2142f" stroke-width="1.0" stroke-linejoin="round"/>
<rect x="573.2" y="469.4" width="8.8" height="8.8" fill="#a2142f" stroke="none" stroke-width="1"/>
<rect x="581.2" y="486.3" width="8.8" height="8.8" fill="#a2142f" stroke="none" stroke-width="1"/>
<rect x="590.1" y="475.3" width="8.8" height="8.8" fill="#a2142f" stroke="none" stroke-width="1"/>
<rect x="596.4" y="469.4" width="8.8" height="8.8" fill="#a2142f" stroke="none" stroke-width="1"/>
<rect x="609.7" y="491.3" width="8.8" height="8.8" fill="#a2142f" stroke="none" stroke-width="1"/>
<rect x="626.6" y="518" width="8.8" height="8.8" fill="#a2142f" stroke="none" stroke-width="1"/>
<rect x="645.9" y="539.7" width="8.8" height="8.8" fill="#a2142f" stroke="none" stroke-width="1"/>
<rect x="668.2" y="556" width="8.8" height="8.8" fill="#a2142f" stroke="none" stroke-width="1"/>
<rect x="706.8" y="557.5" width="8.8" height="8.8" fill="#a2142f" stroke="none" stroke-width="1"/>
</svg>
</body></html>
